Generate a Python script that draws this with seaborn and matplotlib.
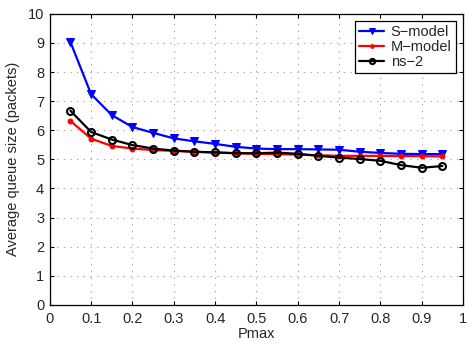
import matplotlib
matplotlib.use("Agg")
import matplotlib.pyplot as plt
import seaborn as sns
import numpy as np

pmax = [0.05, 0.10, 0.15, 0.20, 0.25, 0.30, 0.35, 0.40, 0.45, 0.50,
        0.55, 0.60, 0.65, 0.70, 0.75, 0.80, 0.85, 0.90, 0.95]
s_model = [9.03, 7.24, 6.52, 6.11, 5.91, 5.72, 5.62, 5.53, 5.43, 5.37,
           5.35, 5.35, 5.34, 5.33, 5.26, 5.22, 5.19, 5.18, 5.18]
m_model = [6.32, 5.71, 5.46, 5.37, 5.32, 5.29, 5.26, 5.23, 5.21, 5.19,
           5.18, 5.16, 5.14, 5.12, 5.12, 5.12, 5.11, 5.11, 5.10]
ns2 = [6.67, 5.94, 5.68, 5.49, 5.37, 5.30, 5.26, 5.24, 5.21, 5.21,
       5.23, 5.19, 5.12, 5.06, 5.01, 4.95, 4.80, 4.71, 4.77]

x_ticks = [0, 0.1, 0.2, 0.3, 0.4, 0.5, 0.6, 0.7, 0.8, 0.9, 1]
x_ticklabels = ["0", "0.1", "0.2", "0.3", "0.4", "0.5", "0.6", "0.7", "0.8", "0.9", "1"]
y_ticks = list(range(0, 11))

sns.set_style("white")
plt.rcParams['font.family'] = ['Liberation Sans', 'DejaVu Sans']
plt.rcParams['xtick.direction'] = 'in'
plt.rcParams['ytick.direction'] = 'in'

fig = plt.figure(figsize=(4.74, 3.46), dpi=100)
ax = fig.add_axes([0.105, 0.119, 0.872, 0.841])

sns.lineplot(x=pmax, y=s_model, ax=ax, color="#0000ff", marker="v", markersize=6,
             markerfacecolor="#0000ff", markeredgecolor="#0000ff", linewidth=1.6,
             label="S\u2212model")
sns.lineplot(x=pmax, y=m_model, ax=ax, color="#ff0000", marker="o", markersize=3.5,
             markerfacecolor="#ff0000", markeredgecolor="#ff0000", linewidth=1.6,
             label="M\u2212model")
sns.lineplot(x=pmax, y=ns2, ax=ax, color="black", marker="o", markersize=5,
             markerfacecolor="none", markeredgecolor="black", markeredgewidth=1.5,
             linewidth=1.6, label="ns\u22122")

ax.set_xlim(0, 1)
ax.set_ylim(0, 10)
ax.set_xticks(x_ticks)
ax.set_xticklabels(x_ticklabels)
ax.set_yticks(y_ticks)
ax.tick_params(labelsize=10.5, length=3, width=0.8, color="black", pad=5,
               top=True, right=True, bottom=True, left=True)
ax.tick_params(axis="y", pad=4)
ax.grid(True, linestyle=(0, (1, 5)), color="#999999", linewidth=0.8)
for sp in ax.spines.values():
    sp.set_visible(True)
    sp.set_color("black")
    sp.set_linewidth(0.9)

ax.set_xlabel("Pmax", fontsize=10.5, labelpad=1)
ax.set_ylabel("Average queue size (packets)", fontsize=10.5, labelpad=6)

leg = ax.legend(loc="upper right", fontsize=10.5, frameon=True, fancybox=False,
                edgecolor="black", framealpha=1, borderpad=0.3,
                handlelength=1.7, handletextpad=0.45, labelspacing=0.05,
                markerscale=0.75, borderaxespad=0,
                bbox_to_anchor=(0.983, 0.976))
leg.get_frame().set_linewidth(0.9)

fig.savefig("out.png", dpi=100)
